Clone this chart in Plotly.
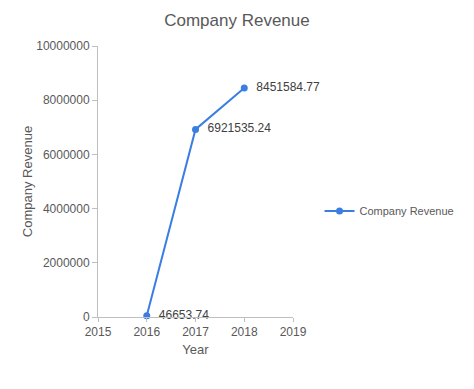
import plotly.graph_objects as go

years = [2016, 2017, 2018]
revenue = [46653.74, 6921535.24, 8451584.77]
labels = ["46653.74", "6921535.24", "8451584.77"]
x_ticks = [2015, 2016, 2017, 2018, 2019]
y_ticks = [0, 2000000, 4000000, 6000000, 8000000, 10000000]

blue = "#3b7ee3"
grey_text = "#595959"
axis_col = "#bfbfbf"

fig = go.Figure()
fig.add_trace(go.Scatter(
    x=years, y=revenue, mode="lines+markers+text",
    name="Company Revenue",
    line=dict(color=blue, width=2),
    marker=dict(color=blue, size=7),
    text=["  " + t for t in labels], textposition="middle right",
    textfont=dict(family="Liberation Sans, Arial", size=12, color="#404040"),
    cliponaxis=False,
))

fig.update_layout(
    width=474, height=389,
    paper_bgcolor="white", plot_bgcolor="white",
    margin=dict(l=90, r=189, t=38, b=80),
    font=dict(family="Liberation Sans, Arial", size=12, color=grey_text),
    title=dict(text="Company Revenue", x=0.483, xref="container", xanchor="center",
               y=0.969, yref="container", yanchor="middle",
               font=dict(size=17, color=grey_text)),
    showlegend=True,
    legend=dict(x=1.136, y=0.391, xanchor="left", yanchor="middle",
                font=dict(size=11, color=grey_text), bgcolor="rgba(0,0,0,0)"),
    xaxis=dict(
        range=[2015, 2019], tickvals=x_ticks, ticktext=[str(v) for v in x_ticks],
        showgrid=False, zeroline=False, showline=True, linecolor=axis_col,
        ticks="outside", ticklen=4, tickcolor=axis_col, automargin=False,
        title=dict(text="Year", font=dict(size=13, color=grey_text), standoff=6),
        tickfont=dict(size=12, color=grey_text),
    ),
    yaxis=dict(
        range=[0, 10000000], tickvals=y_ticks, ticktext=[str(v) for v in y_ticks],
        showgrid=False, zeroline=False, showline=True, linecolor=axis_col,
        ticks="outside", ticklen=5, tickcolor=axis_col, automargin=False,
        title=dict(text="Company Revenue", font=dict(size=13, color=grey_text), standoff=0),
        tickfont=dict(size=12, color=grey_text),
    ),
)

fig.write_html("out.html")
